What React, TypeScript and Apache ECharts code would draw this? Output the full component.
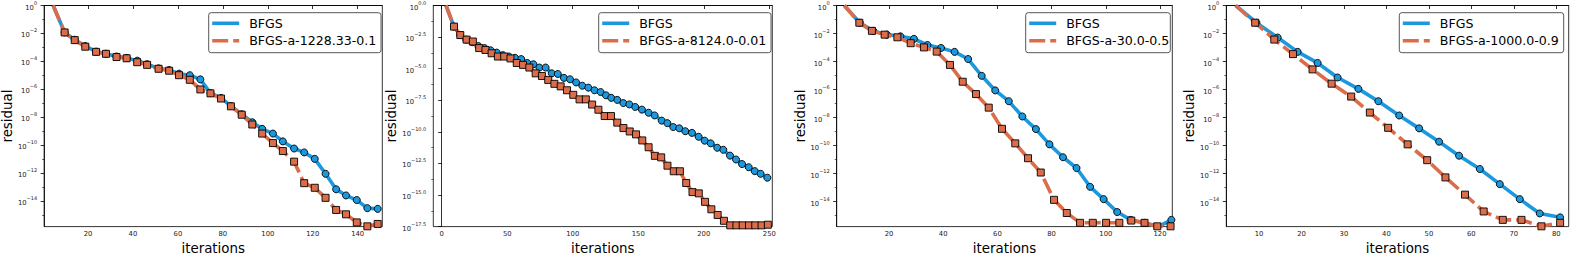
import React, { useEffect, useRef } from 'react';
import * as echarts from 'echarts';

// ---------- data (values are log10(residual)) ----------
const p1X = [4.5, 9.6, 14.1, 18.8, 23.6, 28.0, 32.7, 37.2, 41.9, 46.3, 51.4, 56.1, 60.5, 65.3, 70.0, 74.5, 79.2, 83.6, 88.4, 93.1, 97.5, 102.3, 106.7, 111.7, 116.2, 120.9, 125.7, 130.4, 134.8, 139.6, 144.3, 148.9];
const p1Bfgs = [0, -1.93, -2.45, -2.90, -3.30, -3.45, -3.65, -3.75, -3.95, -4.20, -4.50, -4.62, -4.88, -4.99, -5.29, -6.27, -6.62, -7.20, -7.78, -8.36, -8.83, -9.17, -9.73, -10.24, -10.52, -10.98, -12.05, -13.16, -13.60, -13.93, -14.51, -14.56];
const p1Alt = [0, -1.93, -2.48, -2.95, -3.32, -3.46, -3.69, -3.78, -4.06, -4.25, -4.53, -4.67, -4.99, -5.32, -6.01, -6.29, -6.66, -7.22, -7.82, -8.52, -9.17, -9.85, -10.42, -11.18, -12.72, -13.05, -13.77, -14.64, -14.95, -15.53, -15.81, -15.64];

const p2BfgsX = [3.3, 9.4, 14.1, 18.7, 23.4, 28.0, 32.7, 37.4, 42.0, 46.7, 51.3, 56.0, 60.7, 65.3, 70.0, 74.6, 79.3, 84.0, 88.6, 93.3, 97.9, 102.6, 107.3, 111.9, 116.6, 121.3, 125.4, 129.4, 134.0, 138.6, 143.2, 147.7, 152.8, 157.9, 162.5, 167.9, 172.2, 176.7, 181.3, 185.9, 191.0, 196.1, 200.7, 205.3, 210.3, 214.9, 220.0, 224.6, 229.2, 234.3, 238.9, 243.4, 248.5];
const p2Bfgs = [0, -1.67, -2.34, -2.70, -2.90, -3.21, -3.37, -3.55, -3.73, -3.93, -4.04, -4.14, -4.24, -4.55, -4.65, -4.91, -4.91, -5.37, -5.42, -5.73, -5.84, -6.09, -6.35, -6.50, -6.71, -6.85, -7.11, -7.31, -7.47, -7.72, -7.83, -8.03, -8.24, -8.49, -8.70, -9.11, -9.31, -9.62, -9.72, -9.95, -10.08, -10.39, -10.70, -10.91, -11.26, -11.42, -11.88, -12.19, -12.55, -12.80, -13.11, -13.32, -13.63];
const p2AltX = [3.3, 9.4, 14.2, 19.0, 23.8, 28.6, 33.4, 38.1, 42.9, 47.7, 52.5, 57.3, 62.1, 66.9, 71.7, 76.5, 81.3, 86.0, 90.8, 95.6, 100.4, 105.2, 110.0, 114.8, 119.6, 124.4, 129.2, 134.0, 138.7, 143.5, 148.3, 153.1, 157.9, 162.7, 167.5, 172.3, 177.1, 181.8, 186.6, 191.4, 196.2, 201.0, 205.8, 210.6, 215.4, 220.2, 224.9, 229.7, 234.5, 239.3, 244.1, 248.9];
const p2Alt = [0, -1.67, -2.34, -2.70, -2.85, -3.37, -3.52, -3.78, -4.04, -4.04, -4.19, -4.55, -4.70, -4.91, -5.37, -5.58, -5.89, -6.20, -6.40, -6.71, -7.07, -7.43, -7.43, -7.84, -8.25, -8.75, -8.75, -9.27, -9.70, -9.97, -10.20, -10.68, -11.22, -11.90, -12.02, -12.68, -13.12, -13.12, -14.05, -14.77, -14.87, -15.54, -16.13, -16.58, -17.04, -17.40, -17.40, -17.40, -17.40, -17.40, -17.40, -17.35];

const p3BfgsX = [3.5, 9.2, 14.2, 19.2, 24.2, 29.2, 34.2, 39.2, 44.2, 49.2, 54.2, 59.2, 64.2, 69.2, 74.2, 79.2, 84.2, 89.2, 94.2, 99.2, 104.2, 109.2, 114.2, 119.2, 124.2];
const p3Bfgs = [0, -1.23, -1.81, -2.08, -2.20, -2.38, -2.82, -3.03, -3.31, -3.82, -5.02, -6.06, -6.83, -7.92, -8.82, -9.91, -10.83, -11.60, -12.94, -13.82, -14.74, -15.30, -15.51, -15.80, -15.30];
const p3AltX = [3.5, 9.05, 13.7, 18.4, 23.1, 28.0, 32.9, 37.6, 42.5, 47.2, 52.1, 56.8, 61.7, 66.6, 71.3, 76.0, 80.9, 85.6, 90.5, 95.2, 100.1, 105.0, 109.4, 114.3, 119.0, 123.9];
const p3Alt = [0, -1.23, -1.81, -2.08, -2.27, -2.69, -2.99, -3.29, -4.24, -5.44, -6.32, -7.29, -8.80, -9.84, -10.90, -11.92, -13.87, -14.81, -15.51, -15.51, -15.51, -15.51, -15.35, -15.51, -15.76, -15.76];

const p4BfgsX = [4.5, 9.4, 14.4, 19.1, 23.8, 28.5, 33.4, 38.1, 43.0, 47.7, 52.4, 57.1, 62.0, 66.7, 71.4, 76.1, 80.9];
const p4Bfgs = [0, -1.23, -2.29, -3.31, -4.10, -5.14, -5.95, -6.83, -7.85, -8.77, -9.72, -10.72, -11.67, -12.75, -13.82, -14.84, -15.12];
const p4AltX = [4.5, 9.1, 13.6, 18.0, 22.6, 27.1, 31.7, 36.1, 40.4, 45.0, 49.6, 53.9, 58.5, 62.9, 67.4, 71.8, 76.5, 80.9];
const p4Alt = [0, -1.23, -2.43, -3.47, -4.56, -5.58, -6.50, -7.64, -8.73, -9.91, -11.04, -12.27, -13.50, -14.70, -15.30, -15.30, -15.76, -15.51];

const seriesNames = ['BFGS-a-1228.33-0.1', 'BFGS-a-8124.0-0.01', 'BFGS-a-30.0-0.5', 'BFGS-a-1000.0-0.9'];

// tick values
const p1XTicks = [20, 40, 60, 80, 100, 120, 140];
const p2XTicks = [0, 50, 100, 150, 200, 250];
const p3XTicks = [20, 40, 60, 80, 100, 120];
const p4XTicks = [10, 20, 30, 40, 50, 60, 70, 80];
const evenDecades = [0, -2, -4, -6, -8, -10, -12, -14];
const oddDecades = [-1, -3, -5, -7, -9, -11, -13, -15];
const p2YTicks = [0, -2.5, -5, -7.5, -10, -12.5, -15, -17.5];
const p2YMinor = [-1.25, -3.75, -6.25, -8.75, -11.25, -13.75, -16.25];

// ---------- layout / style ----------
const BLUE = '#1c98de';
const ORANGE = '#dc6d4b';
const FONT = 'DejaVu Sans';
const LEGEND_FONT = '12.6px "DejaVu Sans"';

const panels = [
  { grid: { left: 43.3, top: 5, width: 339, height: 227.3 }, xMin: 0.47, xMax: 150.95, yMin: -15.83, xTicks: p1XTicks, yTicks: evenDecades, yMinor: oddDecades, dec: 0,
    bx: p1X, by: p1Bfgs, ax: p1X, ay: p1Alt, legend: { left: 208.7, width: 172.3 } },
  { grid: { left: 433.3, top: 5, width: 339, height: 227.3 }, xMin: -6.4, xMax: 252.3, yMin: -17.5, xTicks: p2XTicks, yTicks: p2YTicks, yMinor: p2YMinor, dec: 1,
    bx: p2BfgsX, by: p2Bfgs, ax: p2AltX, ay: p2Alt, legend: { left: 598.7, width: 172.3 } },
  { grid: { left: 836.7, top: 5, width: 335.6, height: 227.3 }, xMin: 0.7, xMax: 124.54, yMin: -15.78, xTicks: p3XTicks, yTicks: evenDecades, yMinor: oddDecades, dec: 0,
    bx: p3BfgsX, by: p3Bfgs, ax: p3AltX, ay: p3Alt, legend: { left: 1025.7, width: 144.6 } },
  { grid: { left: 1226.3, top: 5, width: 342.4, height: 227.3 }, xMin: 2.3, xMax: 82.92, yMin: -15.78, xTicks: p4XTicks, yTicks: evenDecades, yMinor: oddDecades, dec: 0,
    bx: p4BfgsX, by: p4Bfgs, ax: p4AltX, ay: p4Alt, legend: { left: 1399.3, width: 164.4 } },
];

function expLabel(v: number, dec: number) {
  const r = dec ? Math.round(v * 10) / 10 : Math.round(v);
  const s = Math.abs(r).toFixed(dec);
  return '{b|10}{s|' + (r < 0 ? '\u2212' : '') + s + '}';
}

function buildOption() {
  const grid: any[] = [];
  const xAxis: any[] = [];
  const yAxis: any[] = [];
  const minorAxes: any[] = [];
  const series: any[] = [];
  const graphic: any[] = [];

  panels.forEach((p, i) => {
    grid.push({ ...p.grid, show: true, borderColor: '#000', borderWidth: 0.8, backgroundColor: 'transparent' });
    xAxis.push({
      type: 'value', gridIndex: i, min: p.xMin, max: p.xMax,
      axisLine: { show: true, lineStyle: { color: '#000', width: 0.8 } },
      axisTick: { show: true, length: 3.5, customValues: p.xTicks, lineStyle: { color: '#000', width: 0.8 } },
      axisLabel: { customValues: p.xTicks, fontSize: 6.8, color: '#222', margin: 3.5, fontFamily: FONT },
      splitLine: { show: false },
      name: 'iterations', nameLocation: 'middle', nameGap: 13,
      nameTextStyle: { fontSize: 13.4, color: '#000', fontFamily: FONT },
    });
    yAxis.push({
      type: 'value', gridIndex: i, min: p.yMin, max: 0, position: 'left',
      axisLine: { show: true, lineStyle: { color: '#000', width: 0.8 } },
      axisTick: { show: true, length: 3.5, customValues: p.yTicks, lineStyle: { color: '#000', width: 0.8 } },
      axisLabel: {
        customValues: p.yTicks, margin: 7,
        formatter: (v: number) => expLabel(v, p.dec),
        rich: {
          b: { fontSize: 6.8, color: '#222', fontFamily: FONT, lineHeight: 11, verticalAlign: 'bottom' },
          s: { fontSize: 5, color: '#222', fontFamily: FONT, lineHeight: 5, verticalAlign: 'top' },
        },
      },
      splitLine: { show: false },
      name: 'residual', nameLocation: 'middle', nameRotate: 90, nameGap: 29,
      nameTextStyle: { fontSize: 13.4, color: '#000', fontFamily: FONT },
    });
    minorAxes.push({
      type: 'value', gridIndex: i, min: p.yMin, max: 0, position: 'left', offset: 0,
      axisLine: { show: false },
      axisTick: { show: true, length: 2, customValues: p.yMinor, lineStyle: { color: '#000', width: 0.6 } },
      axisLabel: { show: false },
      splitLine: { show: false },
    });

    series.push({
      type: 'line', name: 'BFGS', xAxisIndex: i, yAxisIndex: i, z: 2,
      data: p.bx.map((x, j) => (j === 0 ? { value: [x, p.by[j]], symbol: 'none' } : [x, p.by[j]])),
      symbol: 'circle', symbolSize: 7, showAllSymbol: true, clip: true,
      lineStyle: { color: BLUE, width: 3.6 },
      itemStyle: { color: BLUE, borderColor: '#000', borderWidth: 0.9 },
    });
    series.push({
      type: 'line', name: seriesNames[i], xAxisIndex: i, yAxisIndex: i, z: 3,
      data: p.ax.map((x, j) => (j === 0 ? { value: [x, p.ay[j]], symbol: 'none' } : [x, p.ay[j]])),
      symbol: 'rect', symbolSize: 7, showAllSymbol: true, clip: true,
      lineStyle: { color: ORANGE, width: 3.6, type: [16, 5] },
      itemStyle: { color: ORANGE, borderColor: '#000', borderWidth: 0.9 },
    });

    const L = p.legend.left;
    const T = 12.7;
    graphic.push({ type: 'rect', z: 100, shape: { x: L, y: T, width: p.legend.width, height: 40, r: 2.5 },
      style: { fill: '#fff', stroke: '#444', lineWidth: 0.9 } });
    graphic.push({ type: 'line', z: 101, shape: { x1: L + 3.5, y1: T + 10.6, x2: L + 30.5, y2: T + 10.6 },
      style: { stroke: BLUE, lineWidth: 3.6 } });
    graphic.push({ type: 'line', z: 101, shape: { x1: L + 3.5, y1: T + 28, x2: L + 30.5, y2: T + 28 },
      style: { stroke: ORANGE, lineWidth: 3.6, lineDash: [16, 5] } });
    graphic.push({ type: 'text', z: 101, x: L + 40.5, y: T + 10.6,
      style: { text: 'BFGS', fill: '#000', font: LEGEND_FONT, align: 'left', verticalAlign: 'middle', textVerticalAlign: 'middle' } });
    graphic.push({ type: 'text', z: 101, x: L + 40.5, y: T + 28,
      style: { text: seriesNames[i], fill: '#000', font: LEGEND_FONT, align: 'left', verticalAlign: 'middle', textVerticalAlign: 'middle' } });
  });

  return {
    animation: false,
    backgroundColor: '#fff',
    textStyle: { fontFamily: FONT },
    grid,
    xAxis,
    yAxis: [...yAxis, ...minorAxes],
    series,
    graphic,
  };
}

export default function App() {
  const ref = useRef<HTMLDivElement>(null);
  useEffect(() => {
    if (!ref.current) return;
    const chart = echarts.init(ref.current, undefined, { renderer: 'svg' });
    chart.setOption(buildOption() as any);
    return () => chart.dispose();
  }, []);
  return <div ref={ref} style={{ position: 'absolute', left: 0, top: 0, width: 1573, height: 260 }} />;
}
